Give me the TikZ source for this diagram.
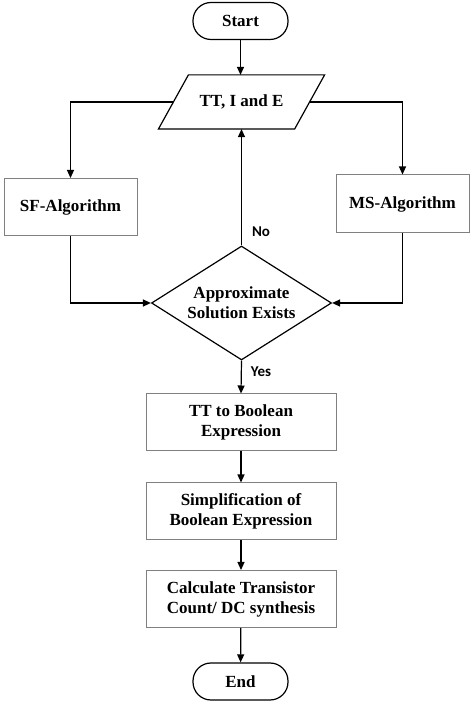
\documentclass[tikz,border=0pt]{standalone}
\usepackage{fontspec}
\setmainfont{Liberation Serif}
\newfontfamily\labelfont{Carlito}
\usetikzlibrary{shapes.geometric,arrows.meta}
\begin{document}
\begin{tikzpicture}[x=1pt,y=1pt,font=\fontsize{17}{20}\selectfont\bfseries,
		line width=1.2pt,
		arr/.style={-{Triangle[length=8pt,width=7pt]}},
		term/.style={draw,rounded corners=18pt,minimum width=95pt,minimum height=37pt,inner sep=0pt},
		inbox/.style={minimum width=135pt,minimum height=53pt,inner sep=0pt},
		procbox/.style={draw=gray,line width=1pt,minimum width=190pt,minimum height=57pt,align=center,inner sep=0pt},
		algbox/.style={procbox,minimum width=133pt},
		decbox/.style={draw,diamond,aspect=1.58,minimum width=180pt,minimum height=114pt,align=center,inner sep=0pt},
		yesno/.style={font=\labelfont\fontsize{15}{17}\selectfont\bfseries,anchor=west,inner sep=0pt}]
	\useasboundingbox (0,0) rectangle (474,705);
	\node[term] (start) at (240.5,684) {Start};
	\node[inbox] (input) at (241.5,603) {TT, I and E};
	\draw ([xshift=-15pt]input.south west) -- ([xshift=-15pt]input.south east)
		-- ([xshift=15pt]input.north east) -- ([xshift=15pt]input.north west) -- cycle;
	\node[algbox] (sf) at (70.5,498) {SF-Algorithm};
	\node[algbox,minimum height=58pt] (ms) at (402.5,501) {MS-Algorithm};
	\node[decbox] (dec) at (241.5,402) {Approximate\\Solution Exists};
	\node[procbox] (tt) at (241,282.5) {TT to Boolean\\Expression};
	\node[procbox] (simp) at (241,193.5) {Simplification of\\Boolean Expression};
	\node[procbox] (calc) at (241,106) {Calculate Transistor\\Count/ DC synthesis};
	\node[term] (end) at (240.5,23.5) {End};
	% arrows
	\draw[arr] (start) -- (start |- input.north);
	\draw[arr] (input.west) -| (sf.north);
	\draw[arr] (input.east) -| (ms.north);
	\draw[arr] (sf.south) |- (dec.west);
	\draw[arr] (ms.south) |- (dec.east);
	\draw[arr] (dec.north) -- node[yesno,pos=0.12,xshift=10pt] {No} (input.south);
	\draw[arr] (dec.south) -- node[yesno,pos=0.35,xshift=9pt] {Yes} (tt.north);
	\draw[arr] (tt) -- (simp);
	\draw[arr] (simp) -- (calc);
	\draw[arr] (calc) -- (end);
\end{tikzpicture}
\end{document}
